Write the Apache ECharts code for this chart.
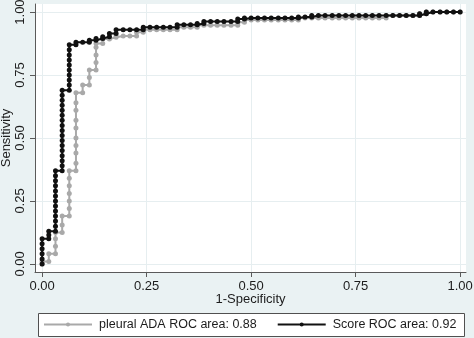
<!DOCTYPE html>
<html>
<head>
<meta charset="utf-8">
<script src="https://cdn.jsdelivr.net/npm/echarts@6/dist/echarts.min.js"></script>
<style>
  html, body { margin: 0; padding: 0; background: #eaf2f3; }
  #chart { width: 474px; height: 338px; }
</style>
</head>
<body>
<div id="chart"></div>
<script>
// ROC curves: each point is [1-specificity, sensitivity]
const adaRoc = [
  [0,0],[0,0.01],[0.016,0.01],[0.016,0.04],[0.032,0.04],[0.032,0.07],[0.032,0.10],[0.032,0.125],
  [0.048,0.125],[0.048,0.155],[0.048,0.19],[0.065,0.19],[0.065,0.22],[0.065,0.25],[0.065,0.28],
  [0.065,0.31],[0.065,0.34],[0.065,0.37],[0.081,0.37],[0.081,0.40],[0.081,0.44],[0.081,0.47],
  [0.081,0.50],[0.081,0.54],[0.081,0.57],[0.081,0.61],[0.081,0.64],[0.081,0.68],[0.097,0.68],
  [0.097,0.71],[0.113,0.71],[0.113,0.74],[0.113,0.77],[0.129,0.77],[0.129,0.80],[0.129,0.83],
  [0.129,0.86],[0.129,0.875],[0.145,0.875],[0.145,0.893],[0.161,0.893],[0.161,0.90],[0.177,0.90],
  [0.177,0.905],[0.194,0.905],[0.210,0.905],[0.226,0.905],[0.226,0.92],[0.242,0.92],[0.242,0.93],
  [0.258,0.93],[0.274,0.93],[0.290,0.93],[0.306,0.93],[0.323,0.93],[0.323,0.94],[0.339,0.94],
  [0.355,0.94],[0.371,0.94],[0.371,0.948],[0.387,0.948],[0.403,0.948],[0.419,0.948],[0.435,0.948],
  [0.452,0.948],[0.468,0.948],[0.468,0.96],[0.484,0.96],[0.484,0.968],[0.500,0.968],[0.516,0.968],
  [0.532,0.968],[0.548,0.968],[0.565,0.968],[0.581,0.968],[0.597,0.968],[0.613,0.968],[0.613,0.976],
  [0.629,0.976],[0.645,0.976],[0.661,0.976],[0.677,0.976],[0.694,0.976],[0.710,0.976],[0.726,0.976],
  [0.742,0.976],[0.758,0.976],[0.774,0.976],[0.790,0.976],[0.806,0.976],[0.823,0.976],[0.823,0.986],
  [0.839,0.986],[0.855,0.986],[0.871,0.986],[0.887,0.986],[0.903,0.986],[0.903,0.993],[0.919,0.993],
  [0.919,1.0],[0.935,1.0],[0.952,1.0],[0.968,1.0],[0.984,1.0],[1.0,1.0]
];

const scoreRoc = [
  [0,0],[0,0.02],[0,0.04],[0,0.06],[0,0.08],[0,0.10],[0.016,0.10],[0.016,0.115],[0.016,0.13],
  [0.032,0.13],[0.032,0.15],[0.032,0.17],[0.032,0.19],[0.032,0.21],[0.032,0.23],[0.032,0.25],
  [0.032,0.27],[0.032,0.29],[0.032,0.31],[0.032,0.33],[0.032,0.35],[0.032,0.37],
  [0.048,0.37],[0.048,0.39],[0.048,0.41],[0.048,0.43],[0.048,0.45],[0.048,0.47],[0.048,0.49],
  [0.048,0.51],[0.048,0.53],[0.048,0.55],[0.048,0.57],[0.048,0.59],[0.048,0.61],[0.048,0.63],
  [0.048,0.65],[0.048,0.67],[0.048,0.69],
  [0.065,0.69],[0.065,0.71],[0.065,0.73],[0.065,0.75],[0.065,0.77],[0.065,0.79],[0.065,0.81],
  [0.065,0.83],[0.065,0.85],[0.065,0.87],
  [0.081,0.87],[0.081,0.88],[0.097,0.88],[0.113,0.88],[0.113,0.888],[0.129,0.888],[0.129,0.895],
  [0.145,0.895],[0.145,0.902],[0.161,0.902],[0.161,0.915],[0.177,0.915],[0.177,0.93],
  [0.194,0.93],[0.210,0.93],[0.226,0.93],[0.242,0.93],[0.242,0.94],[0.258,0.94],[0.274,0.94],
  [0.290,0.94],[0.306,0.94],[0.323,0.94],[0.323,0.95],[0.339,0.95],[0.355,0.95],[0.371,0.95],
  [0.371,0.955],[0.387,0.955],[0.387,0.963],[0.403,0.963],[0.419,0.963],[0.435,0.963],[0.452,0.963],
  [0.468,0.963],[0.468,0.972],[0.484,0.972],[0.484,0.976],[0.500,0.976],[0.516,0.976],[0.532,0.976],
  [0.548,0.976],[0.565,0.976],[0.581,0.976],[0.597,0.976],[0.613,0.976],[0.613,0.98],[0.629,0.98],
  [0.645,0.98],[0.645,0.986],[0.661,0.986],[0.677,0.986],[0.694,0.986],[0.710,0.986],[0.726,0.986],
  [0.742,0.986],[0.758,0.986],[0.774,0.986],[0.790,0.986],[0.806,0.986],[0.823,0.986],[0.839,0.986],
  [0.855,0.986],[0.871,0.986],[0.887,0.986],[0.903,0.986],[0.903,0.993],[0.919,0.993],[0.919,1.0],
  [0.935,1.0],[0.952,1.0],[0.968,1.0],[0.984,1.0],[1.0,1.0]
];

const seriesNames = ['pleural ADA ROC area: 0.88', 'Score ROC area: 0.92'];
const tickValues = [0, 0.25, 0.5, 0.75, 1];
const xTitle = '1-Specificity';
const yTitle = 'Sensitivity';

const FONT = '"Liberation Sans", Arial, sans-serif';
const TEXT = '#1c1c1c';
const AXIS = '#5a5a5a';
const GRIDLINE = '#e6eef0';

const chart = echarts.init(document.getElementById('chart'), null, { renderer: 'canvas' });

function axisCommon(name, isY) {
  return {
    type: 'value',
    name: name,
    nameLocation: 'middle',
    nameGap: isY ? 22 : 21,
    nameMoveOverlap: false,
    nameTextStyle: { color: TEXT, fontFamily: FONT, fontSize: 13 },
    axisLine: { show: true, onZero: false, lineStyle: { color: AXIS, width: 1 } },
    axisTick: { show: true, inside: false, length: 5, customValues: tickValues, lineStyle: { color: AXIS } },
    axisLabel: {
      customValues: tickValues,
      color: TEXT, fontFamily: FONT, fontSize: 13,
      margin: 8,
      rotate: isY ? 90 : 0,
      formatter: v => v.toFixed(2)
    },
    splitLine: { show: true, lineStyle: { color: GRIDLINE, width: 1 } }
  };
}

const xAxis = Object.assign(axisCommon(xTitle, false), { min: -0.017, max: 1.014 });
const yAxis = Object.assign(axisCommon(yTitle, true), { min: -0.032, max: 1.032 });

chart.setOption({
  animation: false,
  backgroundColor: '#eaf2f3',
  textStyle: { fontFamily: FONT },
  grid: {
    left: 35, right: 8, top: 4, bottom: 66,
    outerBoundsMode: 'none', containLabel: false,
    show: true, backgroundColor: '#ffffff', borderWidth: 0
  },
  xAxis: xAxis,
  yAxis: yAxis,
  graphic: [{
    type: 'rect',
    shape: { x: 38.5, y: 313.5, width: 426, height: 23 },
    style: { fill: '#ffffff', stroke: '#505050', lineWidth: 1 },
    z: 0, silent: true
  }],
  legend: {
    left: 43, top: 318,
    itemWidth: 48, itemHeight: 5, itemGap: 20,
    padding: 0,
    textStyle: { color: TEXT, fontFamily: FONT, fontSize: 12.5, padding: [0, 0, 0, 2] },
    data: seriesNames
  },
  series: [
    {
      name: seriesNames[0], type: 'line', data: adaRoc,
      symbol: 'circle', symbolSize: 5, showAllSymbol: true,
      itemStyle: { color: '#a9a9a9' },
      lineStyle: { color: '#a9a9a9', width: 2 },
      z: 2
    },
    {
      name: seriesNames[1], type: 'line', data: scoreRoc,
      symbol: 'circle', symbolSize: 5, showAllSymbol: true,
      itemStyle: { color: '#111111' },
      lineStyle: { color: '#111111', width: 2 },
      z: 3
    }
  ]
});
</script>
</body>
</html>
